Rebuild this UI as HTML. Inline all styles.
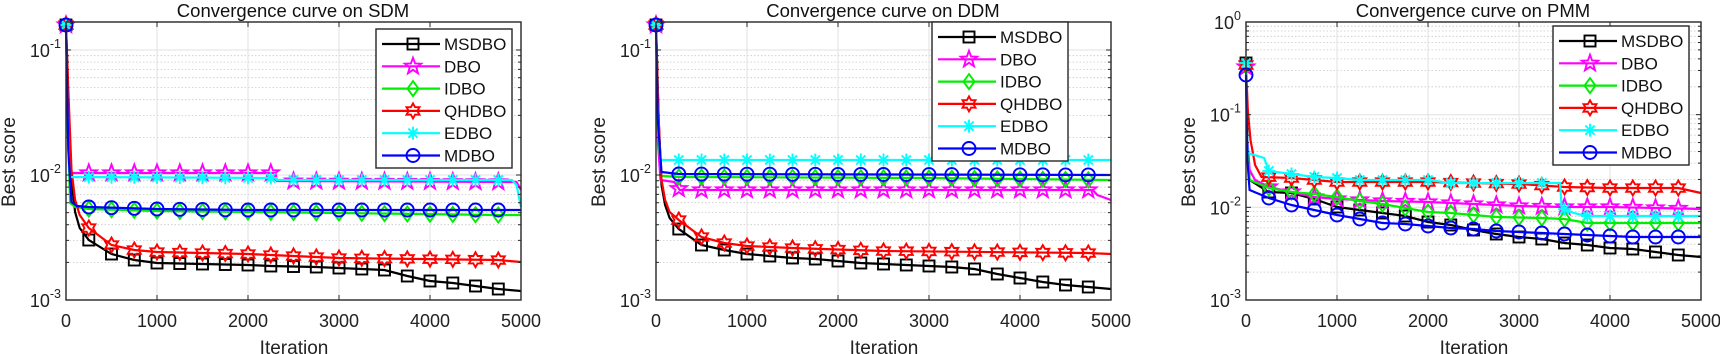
<!DOCTYPE html>
<html><head><meta charset="utf-8">
<style>
html,body{margin:0;padding:0;background:#fff;}
svg{display:block;font-family:"Liberation Sans",Arial,sans-serif;}
</style></head>
<body>
<svg id="s" width="1720" height="354" xmlns="http://www.w3.org/2000/svg"></svg>
<script>
const S=document.getElementById('s');
let out='';
const col={MSDBO:'#000',DBO:'#ff00ff',IDBO:'#00ee00',QHDBO:'#ff0000',EDBO:'#00ffff',MDBO:'#0000ff'};
const mk={MSDBO:'sq',DBO:'pent',IDBO:'dia',QHDBO:'hex',EDBO:'ast',MDBO:'circ'};
const names=['MSDBO','DBO','IDBO','QHDBO','EDBO','MDBO'];
function star(cx,cy,n,ro,ri){let p=[];for(let i=0;i<2*n;i++){const a=-Math.PI/2+i*Math.PI/n;const r=i%2?ri:ro;p.push((cx+r*Math.cos(a)).toFixed(1)+','+(cy+r*Math.sin(a)).toFixed(1));}return p.join(' ');}
function marker(t,x,y,c){
 const st=`fill="none" stroke="${c}" stroke-width="1.9"`;
 if(t=='sq')return `<rect x="${x-5.5}" y="${y-5.5}" width="11" height="11" ${st}/>`;
 if(t=='circ')return `<circle cx="${x}" cy="${y}" r="6.5" ${st}/>`;
 if(t=='dia')return `<polygon points="${x},${y-7.5} ${x+5.5},${y} ${x},${y+7.5} ${x-5.5},${y}" ${st}/>`;
 if(t=='pent')return `<polygon points="${star(x,y,5,8.5,3.5)}" ${st}/>`;
 if(t=='hex')return `<polygon points="${star(x,y,6,7.5,4.3)}" ${st}/>`;
 if(t=='ast'){let s='';for(let i=0;i<4;i++){const a=i*Math.PI/4;const dx=6.5*Math.cos(a),dy=6.5*Math.sin(a);s+=`<line x1="${(x-dx).toFixed(1)}" y1="${(y-dy).toFixed(1)}" x2="${(x+dx).toFixed(1)}" y2="${(y+dy).toFixed(1)}" stroke="${c}" stroke-width="1.9"/>`;}return s;}
}
function interp(d,it){for(let i=1;i<d.length;i++){if(it<=d[i][0]){const a=d[i-1],b=d[i];const f=(it-a[0])/(b[0]-a[0]||1);return a[1]+f*(b[1]-a[1]);}}return d[d.length-1][1];}
function panel(P){
 const x0=P.x0,x1=x0+455,top=22,bot=300;
 const X=it=>x0+it*0.091;
 const Y=l=>bot-(l+3)*P.dec;
 for(let k=-3;k<=0;k++){for(let m=2;m<=9;m++){const y=Y(k+Math.log10(m));if(y>top+1&&y<bot-1)out+=`<line x1="${x0}" y1="${y.toFixed(1)}" x2="${x1}" y2="${y.toFixed(1)}" stroke="#c8c8c8" stroke-width="0.8" stroke-dasharray="1.5,2"/>`;}}
 for(let k=-2;k<=0;k++){const y=Y(k);if(y>top+1)out+=`<line x1="${x0}" y1="${y.toFixed(1)}" x2="${x1}" y2="${y.toFixed(1)}" stroke="#e0e0e0" stroke-width="1"/>`;}
 for(let i=1;i<5;i++){const x=X(i*1000);out+=`<line x1="${x}" y1="${top}" x2="${x}" y2="${bot}" stroke="#e0e0e0" stroke-width="1"/>`;}
 for(const n of names){const d=P.d[n];const c=col[n];
  out+=`<polyline points="${d.map(p=>X(p[0]).toFixed(1)+','+p[1]).join(' ')}" fill="none" stroke="${c}" stroke-width="2.2"/>`;
  out+=marker(mk[n],X(0),interp(d,0),c);
  for(let k=1;k<20;k++){const it=k*250;out+=marker(mk[n],X(it).toFixed(1)*1,+interp(d,it).toFixed(1),c);}
 }
 out+=`<rect x="${x0}" y="${top}" width="455" height="${bot-top}" fill="none" stroke="#262626" stroke-width="1.4"/>`;
 for(let i=0;i<=5;i++){const x=X(i*1000);out+=`<line x1="${x}" y1="${bot}" x2="${x}" y2="${bot-5}" stroke="#262626"/><line x1="${x}" y1="${top}" x2="${x}" y2="${top+5}" stroke="#262626"/>`;
  out+=`<text x="${x}" y="327" font-size="18" text-anchor="middle" fill="#222">${i*1000}</text>`;}
 for(let k=-3;k<=0;k++){for(let m=1;m<=9;m++){const y=Y(k+Math.log10(m));if(y<top-0.5)continue;const L=m==1?5:3;out+=`<line x1="${x0}" y1="${y}" x2="${x0+L}" y2="${y}" stroke="#262626"/><line x1="${x1}" y1="${y}" x2="${x1-L}" y2="${y}" stroke="#262626"/>`;}
  const y=Y(k);if(y>=top-0.5){out+=`<text x="${x0-5}" y="${y+7}" font-size="18" text-anchor="end" fill="#222">10<tspan dy="-9" font-size="12.5">${k==0?'0':'-'+(-k)}</tspan></text>`;}}
 out+=`<text x="${x0+227}" y="17" font-size="18.5" text-anchor="middle" fill="#111">Convergence curve on ${P.t}</text>`;
 out+=`<text x="${x0+228}" y="354" font-size="19" text-anchor="middle" fill="#222">Iteration</text>`;
 out+=`<text transform="translate(${P.yl},162) rotate(-90)" font-size="19" text-anchor="middle" fill="#222">Best score</text>`;
 const lx=P.lg[0],ly=P.lg[1];
 out+=`<rect x="${lx}" y="${ly}" width="136" height="139" fill="#fff" stroke="#262626" stroke-width="1.4"/>`;
 names.forEach((n,i)=>{const y=ly+15+i*22.3;const c=col[n];
  out+=`<line x1="${lx+6}" y1="${y}" x2="${lx+64}" y2="${y}" stroke="${c}" stroke-width="2.2"/>`+marker(mk[n],lx+37,y,c)+`<text x="${lx+68}" y="${y+6}" font-size="17" fill="#111">${n}</text>`;});
}
panel({x0:66,dec:125,t:'SDM',yl:15,lg:[376,29],d:{
MSDBO:[[0,25],[30,110],[60,180],[100,212],[150,228],[250,240],[500,254],[750,260],[1000,263],[1500,264],[2000,265],[2250,266],[2750,267],[3000,268],[3250,269],[3500,270],[3750,276],[4000,281],[4250,283],[4500,286],[4750,289],[5000,291]],
QHDBO:[[0,25],[30,100],[60,170],[100,200],[150,215],[250,228],[500,245],[750,250],[1000,252],[1500,253],[2000,254],[2500,256],[3000,258],[4750,260],[5000,262]],
IDBO:[[0,25],[20,130],[45,203],[100,207],[250,209],[1000,211],[3000,213],[4750,215],[5000,215]],
MDBO:[[0,25],[25,150],[60,202],[120,206],[250,207],[1000,209],[2000,210],[5000,210]],
DBO:[[0,25],[20,120],[40,173],[2300,173],[2320,181],[4950,182],[5000,190]],
EDBO:[[0,25],[20,130],[40,177],[2300,178],[2320,180],[4900,180],[4950,185],[5000,207]]}});
panel({x0:656,dec:125,t:'DDM',yl:605,lg:[932,22],d:{
EDBO:[[0,25],[20,120],[50,160],[5000,160]],
MDBO:[[0,25],[20,120],[60,172],[250,174],[5000,175]],
IDBO:[[0,25],[20,130],[60,176],[250,177],[3000,178],[5000,180]],
DBO:[[0,25],[20,140],[50,180],[200,182],[260,190],[4800,190],[4850,195],[5000,200]],
QHDBO:[[0,25],[30,120],[60,180],[100,200],[150,212],[250,220],[500,237],[750,243],[1000,246],[1500,248],[2500,251],[4750,253],[5000,254]],
MSDBO:[[0,25],[30,120],[60,185],[100,205],[150,218],[250,229],[500,245],[750,250],[1000,254],[1250,256],[1500,258],[1750,259],[2000,261],[2250,263],[2500,264],[2750,265],[3000,266],[3250,267],[3500,269],[3750,274],[4000,278],[4250,282],[4500,285],[4750,287],[5000,289]]}});
panel({x0:1246,dec:92.67,t:'PMM',yl:1195,lg:[1553,26],d:{
MSDBO:[[0,63],[15,150],[40,180],[250,192],[500,193],[750,199],[1000,207],[1250,210],[1500,213],[1750,216],[2000,222],[2250,225],[2500,230],[2750,234],[3000,237],[3250,239],[3500,243],[3750,245],[4000,248],[4250,249],[4500,252],[4750,255],[5000,257]],
DBO:[[0,67],[15,140],[40,170],[100,180],[250,187],[500,192],[750,197],[1000,199],[1250,200],[1500,201],[2000,202],[2500,204],[3000,206],[3500,207],[4000,207],[5000,209]],
IDBO:[[0,66],[15,150],[40,180],[250,188],[500,192],[750,194],[1000,197],[1250,201],[1500,204],[1750,208],[2000,212],[2250,213],[2500,215],[2750,217],[3250,218],[3500,219],[3750,223],[5000,223]],
QHDBO:[[0,65],[20,110],[50,140],[100,165],[170,177],[500,178],[750,180],[1000,182],[2000,182],[2500,183],[3000,184],[3500,187],[4000,188],[4750,188],[5000,193]],
EDBO:[[0,63],[10,130],[20,153],[200,158],[250,171],[500,174],[750,177],[1000,178],[1250,180],[2000,180],[2250,183],[3450,183],[3470,208],[3600,213],[3750,216],[5000,216]],
MDBO:[[0,75],[15,160],[40,190],[250,198],[500,205],[750,210],[1000,215],[1250,219],[1500,223],[1750,224],[2000,226],[2250,228],[2500,229],[2750,231],[3000,232],[3250,233],[3500,234],[3750,235],[4000,236],[4250,237],[5000,237]]}});
S.innerHTML=out;
</script>
</body></html>
